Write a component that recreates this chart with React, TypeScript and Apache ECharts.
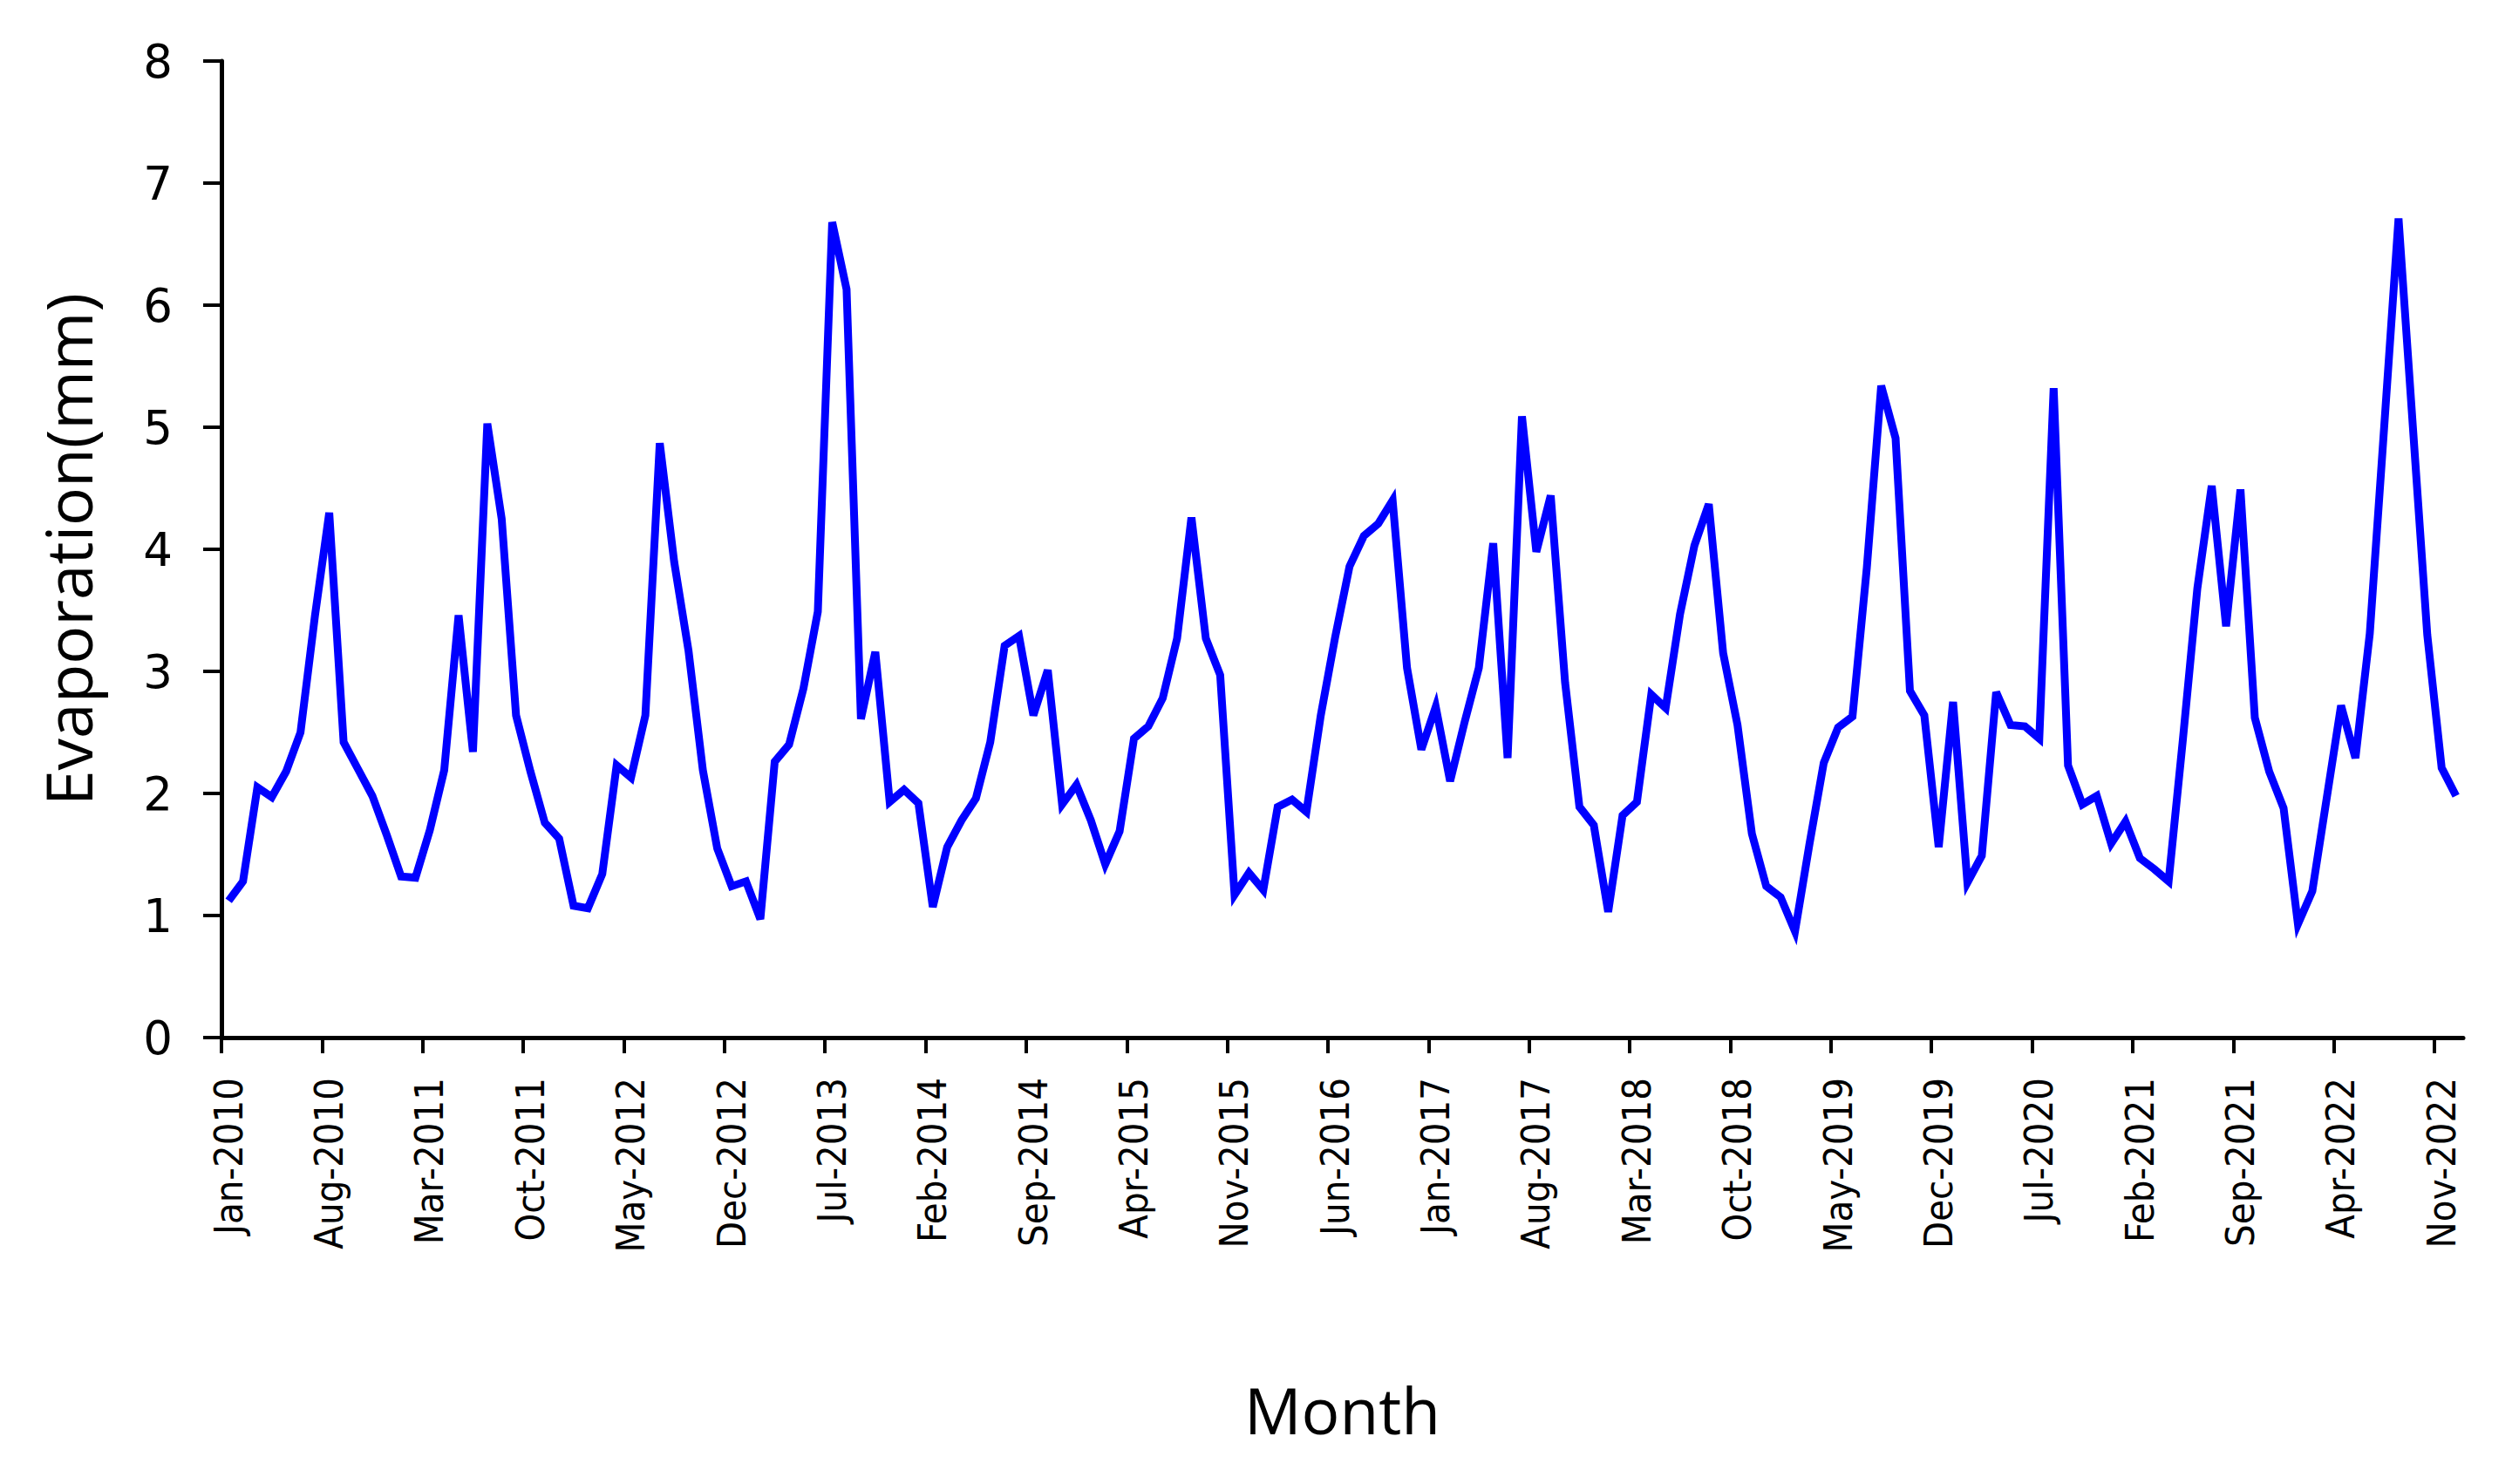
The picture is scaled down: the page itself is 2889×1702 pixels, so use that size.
import React, { useEffect, useRef } from "react";
import * as echarts from "echarts";

const MONTH_NAMES = ["Jan", "Feb", "Mar", "Apr", "May", "Jun", "Jul", "Aug", "Sep", "Oct", "Nov", "Dec"];
const YEARS = [2010, 2011, 2012, 2013, 2014, 2015, 2016, 2017, 2018, 2019, 2020, 2021, 2022];

const evap2010 = [1.12, 1.28, 2.05, 1.97, 2.18, 2.5, 3.45, 4.3, 2.42, 2.2, 1.98, 1.66];
const evap2011 = [1.32, 1.31, 1.7, 2.19, 3.46, 2.34, 5.03, 4.25, 2.64, 2.18, 1.76, 1.63];
const evap2012 = [1.08, 1.06, 1.34, 2.23, 2.13, 2.64, 4.87, 3.9, 3.17, 2.19, 1.55, 1.24];
const evap2013 = [1.28, 0.97, 2.26, 2.4, 2.86, 3.49, 6.68, 6.13, 2.61, 3.16, 1.93, 2.03];
const evap2014 = [1.92, 1.07, 1.56, 1.78, 1.96, 2.42, 3.21, 3.29, 2.64, 3.01, 1.91, 2.07];
const evap2015 = [1.78, 1.42, 1.69, 2.45, 2.55, 2.78, 3.27, 4.26, 3.27, 2.97, 1.17, 1.35];
const evap2016 = [1.21, 1.89, 1.95, 1.85, 2.64, 3.28, 3.86, 4.11, 4.21, 4.4, 3.03, 2.36];
const evap2017 = [2.71, 2.1, 2.58, 3.03, 4.05, 2.29, 5.09, 3.98, 4.44, 2.91, 1.89, 1.74];
const evap2018 = [1.03, 1.82, 1.93, 2.81, 2.7, 3.47, 4.03, 4.37, 3.15, 2.56, 1.67, 1.24];
const evap2019 = [1.15, 0.87, 1.58, 2.25, 2.54, 2.63, 3.85, 5.34, 4.91, 2.84, 2.64, 1.56];
const evap2020 = [2.75, 1.27, 1.49, 2.83, 2.56, 2.55, 2.45, 5.32, 2.23, 1.91, 1.98, 1.59];
const evap2021 = [1.77, 1.47, 1.38, 1.28, 2.45, 3.68, 4.52, 3.37, 4.49, 2.62, 2.18, 1.88];
const evap2022 = [0.93, 1.2, 1.96, 2.72, 2.29, 3.31, 5.0, 6.71, 5.0, 3.3, 2.21, 1.98];

const EVAP_BY_YEAR = [
  evap2010, evap2011, evap2012, evap2013, evap2014, evap2015, evap2016,
  evap2017, evap2018, evap2019, evap2020, evap2021, evap2022,
];

const LABEL_EVERY = 7;
const Y_MIN = 0;
const Y_MAX = 8;
const Y_STEP = 1;

export default function App() {
  const ref = useRef<HTMLDivElement>(null);

  useEffect(() => {
    if (!ref.current) return;
    const chart = echarts.init(ref.current, undefined, { renderer: "svg" });

    const categories: string[] = [];
    YEARS.forEach((y) => MONTH_NAMES.forEach((m) => categories.push(`${m}-${y}`)));
    const values: number[] = [];
    EVAP_BY_YEAR.forEach((arr) => arr.forEach((v) => values.push(v)));
    const tickPositions: number[] = [];
    categories.forEach((_, i) => {
      if (i % LABEL_EVERY === 0) tickPositions.push(i);
    });

    chart.setOption({
      animation: false,
      backgroundColor: "#ffffff",
      grid: { left: 254, right: 64, top: 70, bottom: 512, containLabel: false },
      xAxis: [
        {
          type: "category",
          data: categories,
          boundaryGap: true,
          position: "bottom",
          name: "Month",
          nameLocation: "middle",
          nameGap: 390,
          nameTextStyle: { fontFamily: "Open Sans", fontSize: 73, color: "#000" },
          axisLine: { show: true, lineStyle: { color: "#000", width: 5 } },
          axisTick: { show: false },
          axisLabel: {
            interval: LABEL_EVERY - 1,
            rotate: 90,
            margin: 46,
            hideOverlap: false,
            fontFamily: "DejaVu Sans Condensed, DejaVu Sans",
            fontSize: 45,
            color: "#000",
          },
          splitLine: { show: false },
        },
        {
          type: "value",
          position: "bottom",
          min: 0,
          max: categories.length,
          interval: LABEL_EVERY,
          axisLine: { show: false, onZero: false },
          axisLabel: { show: false },
          splitLine: { show: false },
          axisTick: {
            show: true,
            customValues: tickPositions,
            length: 18,
            lineStyle: { color: "#000", width: 4 },
          },
        },
      ],
      yAxis: {
        type: "value",
        min: Y_MIN,
        max: Y_MAX,
        interval: Y_STEP,
        name: "Evaporation(mm)",
        nameLocation: "middle",
        nameGap: 140,
        nameTextStyle: { fontFamily: "Open Sans", fontSize: 73, color: "#000" },
        axisLine: { show: true, lineStyle: { color: "#000", width: 5 } },
        axisTick: { show: true, length: 21, lineStyle: { color: "#000", width: 4 } },
        axisLabel: { margin: 56, fontFamily: "DejaVu Sans", fontSize: 53, color: "#000" },
        splitLine: { show: false },
      },
      series: [
        {
          type: "line",
          xAxisIndex: 0,
          yAxisIndex: 0,
          data: values,
          showSymbol: false,
          symbol: "none",
          lineStyle: { color: "#0000ff", width: 9, join: "miter" },
          itemStyle: { color: "#0000ff" },
        },
      ],
    });

    return () => chart.dispose();
  }, []);

  return (
    <div
      ref={ref}
      style={{ position: "fixed", left: 0, top: 0, width: 2889, height: 1702, background: "#fff" }}
    />
  );
}
